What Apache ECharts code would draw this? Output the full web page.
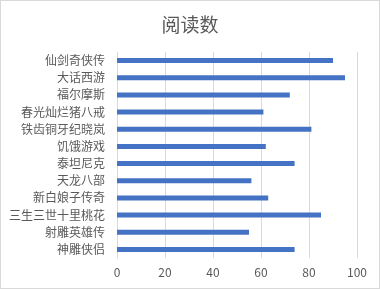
<!DOCTYPE html>
<html>
<head>
<meta charset="utf-8">
<script src="https://cdn.jsdelivr.net/npm/echarts@6/dist/echarts.min.js"></script>
<style>
html,body{margin:0;padding:0;background:#fff;}
#c{width:378px;height:287px;border:1px solid #d9d9d9;}
</style>
</head>
<body>
<div id="c"></div>
<script>
const categories = ['仙剑奇侠传','大话西游','福尔摩斯','春光灿烂猪八戒','铁齿铜牙纪晓岚','饥饿游戏','泰坦尼克','天龙八部','新白娘子传奇','三生三世十里桃花','射雕英雄传','神雕侠侣'];
const readCounts = [90,95,72,61,81,62,74,56,63,85,55,74];
const titleText = '阅读数';
const font = '"Noto Sans CJK SC","Microsoft YaHei",sans-serif';
const chart = echarts.init(document.getElementById('c'));
chart.setOption({
  animation:false,
  title:{text:titleText,left:'center',top:9,textStyle:{fontFamily:font,fontSize:19,fontWeight:'normal',color:'#595959'}},
  grid:{left:116,right:22,top:51,bottom:30},
  xAxis:{type:'value',min:0,max:100,interval:20,
    axisLine:{show:false},axisTick:{show:false},
    axisLabel:{fontFamily:font,fontSize:12,color:'#595959',margin:8},
    splitLine:{lineStyle:{color:'#d9d9d9',width:1}}},
  yAxis:{type:'category',data:categories,inverse:true,
    axisLine:{show:true,lineStyle:{color:'#d9d9d9'}},axisTick:{show:false},
    axisLabel:{fontFamily:font,fontSize:12,color:'#595959',margin:12}},
  series:[{type:'bar',data:readCounts,barWidth:5,itemStyle:{color:'#4472c4'}}]
});
</script>
</body>
</html>
